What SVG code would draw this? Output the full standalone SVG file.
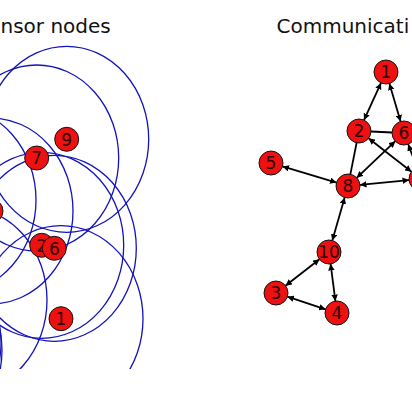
<svg xmlns="http://www.w3.org/2000/svg" width="412" height="412" viewBox="0 0 412 412">
<defs>
<style>
.title{font-family:"DejaVu Sans",sans-serif;font-size:20px;fill:#111}
.rng{fill:none;stroke:#1212bb;stroke-width:1.3}
.nd{fill:#ee1111;stroke:#111;stroke-width:1}
.lb{font-family:"DejaVu Sans",sans-serif;font-size:17px;fill:#2a0000;text-anchor:middle}
.ed{stroke:#000;stroke-width:1.8;fill:none}
.bi{marker-start:url(#ah);marker-end:url(#ah)}
</style>
<marker id="ah" viewBox="0 0 10 10" refX="10" refY="5" markerWidth="3.6" markerHeight="3.6" orient="auto-start-reverse" markerUnits="strokeWidth">
<path d="M0,0 L10,5 L0,10 z" fill="#000"/>
</marker>
<clipPath id="ax"><rect x="-200" y="40" width="400" height="329"/></clipPath>
</defs>
<rect width="412" height="412" fill="#fff"/>
<text class="title" x="0.5" y="33">nsor nodes</text>
<text class="title" x="276.5" y="33">Communicati</text>

<g id="ranges" clip-path="url(#ax)">
<ellipse class="rng" cx="66.7" cy="139.3" rx="82" ry="93"/>
<ellipse class="rng" cx="36.7" cy="158" rx="82" ry="93"/>
<ellipse class="rng" cx="41.7" cy="245.3" rx="82" ry="93"/>
<ellipse class="rng" cx="54.3" cy="248.3" rx="82" ry="93"/>
<ellipse class="rng" cx="61" cy="318.7" rx="82" ry="93"/>
<ellipse class="rng" cx="-9" cy="211" rx="82" ry="93"/>
<ellipse class="rng" cx="-46" cy="200" rx="82" ry="93"/>
<ellipse class="rng" cx="-35" cy="300" rx="82" ry="93"/>
<ellipse class="rng" cx="-81" cy="343" rx="82" ry="93"/>
<ellipse class="rng" cx="-80" cy="350" rx="82" ry="93"/>
</g>

<g id="sensor-off"><circle class="nd" cx="-9" cy="211" r="12"/></g>
<g id="sensor-9"><circle class="nd" cx="66.7" cy="139.3" r="12"/><text class="lb" x="66.7" y="145.5">9</text></g>
<g id="sensor-7"><circle class="nd" cx="36.7" cy="158" r="12"/><text class="lb" x="36.7" y="164.2">7</text></g>
<g id="sensor-2"><circle class="nd" cx="41.7" cy="245.3" r="12"/><text class="lb" x="41.7" y="251.5">2</text></g>
<g id="sensor-6"><circle class="nd" cx="54.3" cy="248.3" r="12"/><text class="lb" x="54.3" y="254.5">6</text></g>
<g id="sensor-1"><circle class="nd" cx="61" cy="318.7" r="12"/><text class="lb" x="61" y="324.9">1</text></g>

<g id="connectors">
<line class="ed bi" x1="381" y1="82.9" x2="364" y2="120.1"/>
<line class="ed bi" x1="389.4" y1="83.5" x2="400.6" y2="121.5"/>
<line class="ed" x1="371" y1="131.5" x2="392" y2="132.5"/>
<line class="ed" x1="356.6" y1="142.8" x2="350.4" y2="174.2"/>
<line class="ed bi" x1="368.5" y1="138.3" x2="411.5" y2="171.7"/>
<line class="ed bi" x1="395.3" y1="141.2" x2="356.7" y2="177.8"/>
<line class="ed bi" x1="408.2" y1="144.3" x2="417" y2="168"/>
<line class="ed bi" x1="360" y1="184.9" x2="409" y2="180.1"/>
<line class="ed bi" x1="282.5" y1="166.4" x2="336.5" y2="182.6"/>
<line class="ed bi" x1="344.7" y1="197.5" x2="332.3" y2="240.5"/>
<line class="ed bi" x1="319.5" y1="259.3" x2="285.5" y2="285.7"/>
<line class="ed bi" x1="330.6" y1="263.9" x2="335.4" y2="301.1"/>
<line class="ed bi" x1="287.4" y1="296.7" x2="325.6" y2="309.3"/>
</g>

<g id="comm-1"><circle class="nd" cx="386" cy="72" r="12"/><text class="lb" x="386" y="78.2">1</text></g>
<g id="comm-2"><circle class="nd" cx="359" cy="131" r="12"/><text class="lb" x="359" y="137.2">2</text></g>
<g id="comm-6"><circle class="nd" cx="404" cy="133" r="12"/><text class="lb" x="404" y="139.2">6</text></g>
<g id="comm-8"><circle class="nd" cx="348" cy="186" r="12"/><text class="lb" x="348" y="192.2">8</text></g>
<g id="comm-5"><circle class="nd" cx="271" cy="163" r="12"/><text class="lb" x="271" y="169.2">5</text></g>
<g id="comm-7"><circle class="nd" cx="421" cy="179" r="12"/></g>
<g id="comm-10"><circle class="nd" cx="329" cy="252" r="12"/><text class="lb" x="329" y="258.2">10</text></g>
<g id="comm-3"><circle class="nd" cx="276" cy="293" r="12"/><text class="lb" x="276" y="299.2">3</text></g>
<g id="comm-4"><circle class="nd" cx="337" cy="313" r="12"/><text class="lb" x="337" y="319.2">4</text></g>
</svg>
